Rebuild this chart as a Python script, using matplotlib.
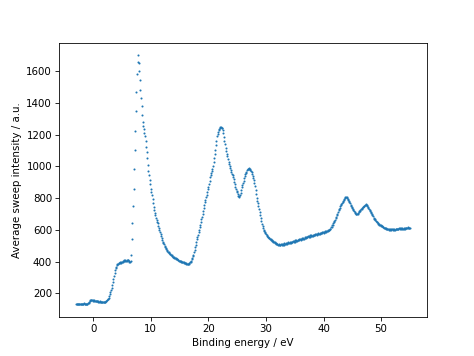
import numpy as np
import matplotlib
matplotlib.use("Agg")
import matplotlib.pyplot as plt

# Energy grid (eV): start and step of the sweep
e_start = -3.0
e_step = 0.1

# Average sweep intensity (a.u.), one row per eV, from -3.0 eV to 55.0 eV
intensity = [
    133, 131, 134, 130, 132, 135, 131, 133, 130, 134,   # -3
    132, 135, 131, 133, 136, 132, 134, 131, 135, 133,   # -2
    135, 136, 140, 145, 150, 156, 159, 156, 157, 154,   # -1
    155, 153, 156, 151, 153, 150, 152, 149, 151, 148,   # 0
    148, 146, 149, 145, 147, 144, 146, 145, 143, 147,   # 1
    146, 148, 151, 154, 158, 162, 166, 172, 182, 193,   # 2
    205, 218, 232, 250, 270, 290, 310, 330, 345, 358,   # 3
    368, 376, 382, 386, 389, 392, 390, 395, 393, 398,   # 4
    400, 397, 404, 407, 403, 408, 404, 401, 406, 409,   # 5
    412, 408, 405, 398, 394, 402, 440, 540, 640, 750,   # 6
    860, 980, 1100, 1220, 1350, 1470, 1580, 1660, 1700, 1650,   # 7
    1600, 1545, 1480, 1430, 1380, 1320, 1282, 1252, 1232, 1212,  # 8
    1190, 1160, 1122, 1088, 1050, 1005, 970, 942, 915, 888,      # 9
    860, 838, 818, 792, 766, 742, 722, 706, 690, 676,   # 10
    662, 650, 640, 626, 612, 600, 588, 574, 560, 546,   # 11
    536, 525, 516, 508, 498, 491, 485, 478, 470, 466,   # 12
    461, 457, 452, 449, 445, 442, 438, 436, 431, 430,   # 13
    427, 425, 421, 420, 416, 414, 413, 409, 410, 406,   # 14
    405, 402, 403, 398, 399, 396, 394, 396, 391, 393,   # 15
    389, 391, 386, 384, 387, 383, 386, 390, 396, 400,   # 16
    406, 414, 423, 432, 443, 458, 474, 490, 507, 524,   # 17
    540, 555, 570, 585, 600, 615, 630, 648, 665, 683,   # 18
    700, 718, 736, 755, 772, 790, 808, 822, 838, 855,   # 19
    870, 890, 910, 930, 945, 958, 970, 984, 1000, 1025,   # 20
    1050, 1078, 1105, 1132, 1162, 1190, 1205, 1218, 1228, 1236,  # 21
    1240, 1246, 1250, 1244, 1240, 1226, 1210, 1186, 1160, 1138,  # 22
    1115, 1096, 1078, 1062, 1045, 1030, 1016, 1003, 990, 978,    # 23
    965, 954, 943, 932, 920, 903, 887, 870, 857, 845,   # 24
    835, 823, 815, 810, 808, 816, 830, 848, 868, 883,   # 25
    897, 910, 924, 937, 950, 958, 967, 975, 980, 984,   # 26
    986, 988, 985, 978, 970, 961, 951, 940, 926, 911,   # 27
    895, 873, 850, 825, 800, 783, 766, 750, 730, 710,   # 28
    690, 672, 655, 638, 625, 612, 600, 593, 586, 580,   # 29
    574, 567, 560, 557, 553, 550, 548, 544, 541, 538,   # 30
    535, 532, 528, 525, 522, 520, 518, 515, 513, 511,   # 31
    510, 506, 503, 508, 501, 506, 509, 504, 511, 507,   # 32
    512, 506, 514, 509, 515, 511, 518, 512, 516, 520,   # 33
    515, 521, 517, 524, 519, 526, 521, 528, 523, 530,   # 34
    526, 533, 528, 535, 531, 538, 533, 540, 535, 541,   # 35
    537, 544, 540, 547, 542, 550, 545, 552, 548, 555,   # 36
    551, 557, 553, 560, 555, 562, 557, 564, 559, 565,   # 37
    561, 567, 563, 569, 565, 571, 567, 573, 569, 575,   # 38
    571, 577, 573, 579, 575, 581, 577, 584, 580, 586,   # 39
    582, 589, 585, 591, 588, 594, 591, 597, 595, 601,   # 40
    600, 606, 608, 615, 620, 627, 633, 641, 648, 655,   # 41
    662, 672, 682, 692, 702, 712, 722, 731, 740, 748,   # 42
    756, 763, 770, 777, 784, 790, 796, 801, 806, 809,   # 43
    806, 801, 796, 790, 782, 775, 766, 759, 750, 742,   # 44
    736, 728, 722, 716, 711, 706, 702, 699, 702, 700,   # 45
    706, 711, 716, 720, 724, 728, 733, 737, 741, 745,   # 46
    748, 752, 755, 758, 760, 756, 752, 746, 740, 733,   # 47
    727, 720, 713, 706, 700, 692, 684, 677, 670, 665,   # 48
    659, 655, 650, 646, 642, 638, 635, 632, 629, 627,   # 49
    625, 622, 621, 618, 617, 614, 613, 610, 609, 607,   # 50
    605, 606, 602, 604, 600, 603, 599, 602, 598, 603,   # 51
    599, 604, 600, 605, 601, 606, 602, 607, 603, 608,   # 52
    604, 609, 605, 611, 606, 612, 607, 610, 606, 611,   # 53
    607, 612, 608, 614, 609, 613, 610, 615, 611, 614,   # 54
    612,                                                # 55
]

x_label = "Binding energy / eV"
y_label = "Average sweep intensity / a.u."

energy = np.round(e_start + e_step * np.arange(len(intensity)), 2)

fig = plt.figure(figsize=(474 / 74, 356 / 74), dpi=74)
ax = fig.add_subplot(111)
ax.scatter(energy, intensity, s=1, color="#1f77b4")
ax.set_xlabel(x_label)
ax.set_ylabel(y_label)
fig.savefig("out.png", dpi=74)
